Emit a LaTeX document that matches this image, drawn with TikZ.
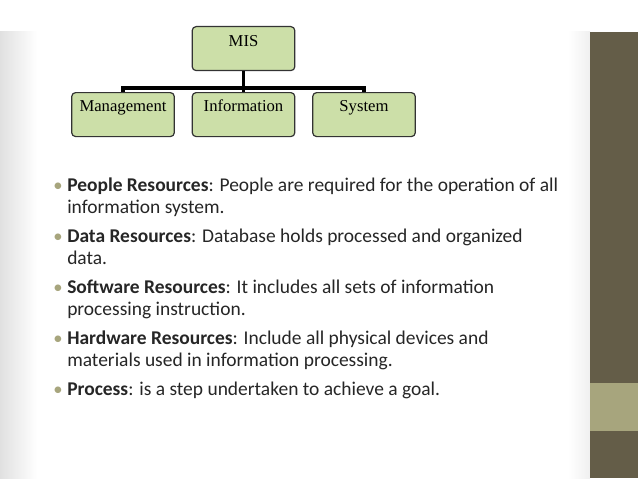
\documentclass[tikz,border=0pt]{standalone}
\usepackage{fontspec}
\setmainfont{Carlito}
\newfontfamily\boxfont{Liberation Serif}
\definecolor{bardark}{HTML}{645D48}
\definecolor{barlight}{HTML}{A7A57D}
\definecolor{boxfill}{HTML}{CCDFA8}
\begin{document}
\begin{tikzpicture}[x=0.75pt,y=-0.75pt,
  orgbox/.style={draw=black!80,line width=0.9pt,fill=boxfill,rounded corners=3pt,minimum width=77pt,minimum height=33pt,anchor=north,inner sep=0pt},
  boxlabel/.style={font=\boxfont\fontsize{12.5}{14}\selectfont,anchor=base,inner sep=0pt},
  conn/.style={line width=2.4pt},
  bul/.style={anchor=base west,font=\fontsize{14.6}{16}\selectfont,text=black!85,inner sep=0pt},
  dot/.style={anchor=base,text=barlight,font=\fontsize{14}{16}\selectfont,inner sep=0pt}]
\useasboundingbox (0,0) rectangle (638,478);
\fill[white] (0,0) rectangle (638,478);
\shade[left color=black!12,right color=white] (0,32) rectangle (37,478);
\shade[left color=white,right color=black!6] (568,32) rectangle (590,478);
\fill[bardark] (590,32) rectangle (638,478);
\fill[barlight] (590,383) rectangle (638,431);
% org chart
\node[orgbox] (mis) at (243.5,26) {};
\node[boxlabel] at (243.5,47) {MIS};
\node[orgbox] (man) at (123,92) {};
\node[boxlabel] at (123,111) {Management};
\node[orgbox] (inf) at (243.5,92) {};
\node[boxlabel] at (243.5,111) {Information};
\node[orgbox] (sys) at (364,92) {};
\node[boxlabel] at (364,111) {System};
\coordinate (j) at (243.5,88);
\draw[conn] (mis.south) -- (j);
\draw[conn] (man.north) -- (man.north |- j) -- (sys.north |- j) -- (sys.north);
\draw[conn] (j) -- (inf.north);
% bullets
\foreach \y in {191,242,293,344,395} \node[dot] at (58,\y) {•};
\node[bul] (b1) at (67,191) {\textbf{People Resources}: People are required for the operation of all};
\node[bul] (b1b) at (67,213) {information system.};
\node[bul] (b2) at (67,242) {\textbf{Data Resources}: Database holds processed and organized};
\node[bul] (b2b) at (67,264) {data.};
\node[bul] (b3) at (67,293) {\textbf{Software Resources}: It includes all sets of information};
\node[bul] (b3b) at (67,315) {processing instruction.};
\node[bul] (b4) at (67,344) {\textbf{Hardware Resources}: Include all physical devices and};
\node[bul] (b4b) at (67,366) {materials used in information processing.};
\node[bul] (b5) at (67,395) {\textbf{Process}: is a step undertaken to achieve a goal.};
\end{tikzpicture}
\end{document}
